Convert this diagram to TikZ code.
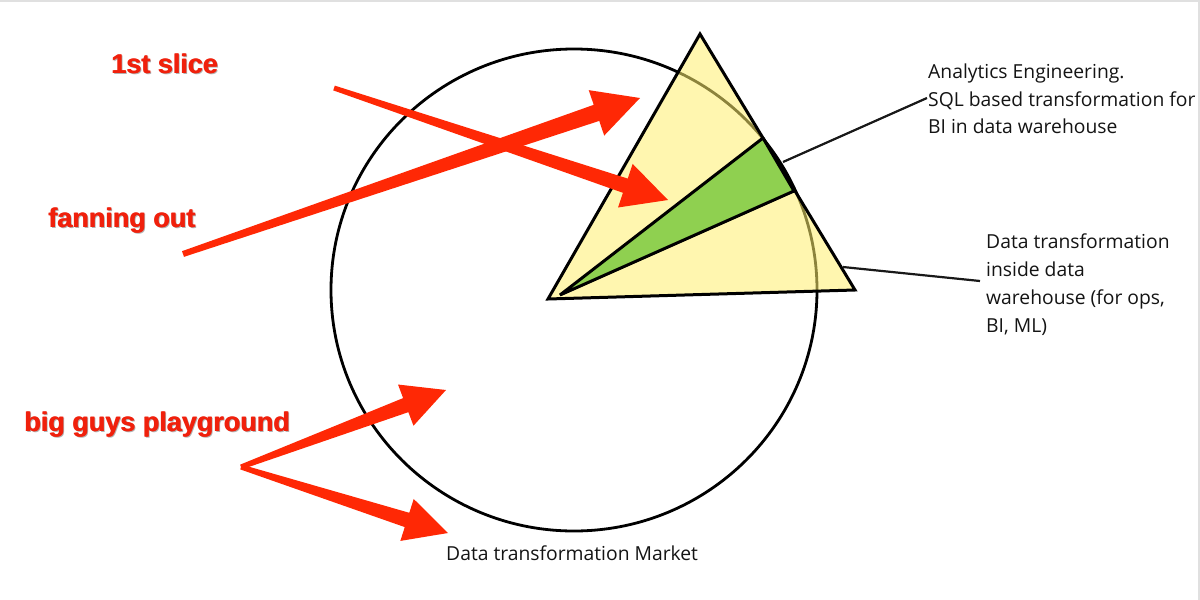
\documentclass[tikz,border=0pt]{standalone}
\usepackage{fontspec}
\setmainfont{Open Sans}
\newfontfamily\lsans{Liberation Sans}
\usetikzlibrary{calc,shapes.geometric}
\definecolor{arrowred}{RGB}{255,40,5}
\definecolor{textred}{RGB}{240,32,12}
\definecolor{triyellow}{RGB}{255,240,110}
\definecolor{slicegreen}{RGB}{143,208,80}
\tikzset{
  outline/.style={draw=black,line width=3pt,line join=miter},
  leader/.style={draw=black!90,line width=2.2pt},
  redarrow/.style={fill=arrowred,line join=round},
  blacktext/.style={inner sep=0pt,anchor=base west,font=\fontsize{19.3}{22}\selectfont,text=black!92},
  redlabel/.style={inner sep=0pt,anchor=base west,font=\lsans\bfseries\fontsize{27}{30}\selectfont,text=textred},
  redshadow/.style={inner sep=0pt,anchor=base west,font=\lsans\bfseries\fontsize{27}{30}\selectfont,text=black!30}
}
\newcommand{\karrow}[6]{%
  \path ($(#2)!#5!(#1)$) coordinate (kb);
  \fill[redarrow] ($(#1)!#3!90:(#2)$) -- ($(kb)!#4!-90:(#1)$) -- ($(kb)!#6!-90:(#1)$)
    -- (#2) -- ($(kb)!#6!90:(#1)$) -- ($(kb)!#4!90:(#1)$) -- ($(#1)!#3!-90:(#2)$) -- cycle;
}
\newcommand{\redtext}[4]{% name, x, y, text
  \node[redshadow] at (#2+1.4,#3+1.6) {#4};
  \node[redlabel] at (#2+0.6,#3) {#4};
  \node[redlabel] (#1) at (#2,#3) {#4};
}
\begin{document}
\begin{tikzpicture}[x=1pt,y=-1pt]
\useasboundingbox (0,0) rectangle (1200,600);
\fill[white] (0,0) rectangle (1200,600);
\draw[black!12,line width=1.5pt] (0,0.8) -- (1199.2,0.8) -- (1199.2,600);

% market circle
\node[draw=black,line width=2.8pt,ellipse,minimum width=486pt,minimum height=482pt,inner sep=0pt] (market) at (574,290) {};

% triangle
\coordinate (A) at (548,299);
\coordinate (P) at (700,34);
\coordinate (R) at (855,290);
\fill[triyellow,fill opacity=0.55] (A) -- (P) -- (R) -- cycle;
\draw[outline] (A) -- (P) -- (R) -- cycle;

% green slice
\coordinate (G0) at (560,295);
\coordinate (G1) at (763,138);
\coordinate (G2) at (794,191);
\filldraw[fill=slicegreen,outline,line join=bevel] (G0) -- (G1) -- (G2) -- cycle;

% arrows
\coordinate (s1) at (334,88);   \coordinate (t1) at (668,200);
\coordinate (s2) at (183,254);  \coordinate (t2) at (640,98);
\coordinate (s3) at (241,467);  \coordinate (t3) at (446,390);
\coordinate (t4) at (448,533);
\karrow{s1}{t1}{2.5pt}{7.5pt}{45pt}{23pt}
\karrow{s2}{t2}{3pt}{8.5pt}{46pt}{24pt}
\karrow{s3}{t3}{2.5pt}{7.5pt}{43pt}{22pt}
\karrow{s3}{t4}{2.5pt}{7.5pt}{43pt}{22pt}

% leaders
\coordinate (l1a) at (783,162); \coordinate (l1b) at (927,98);
\coordinate (l2a) at (843,267); \coordinate (l2b) at (980,281);
\draw[leader] (l1a) -- (l1b);
\draw[leader] (l2a) -- (l2b);

% black texts
\node[blacktext] (ae1) at (928,78) {Analytics Engineering.};
\node[blacktext] (ae2) at (928,106) {SQL based transformation for};
\node[blacktext] (ae3) at (928,133) {BI in data warehouse};
\node[blacktext] (dt1) at (986,248) {Data transformation};
\node[blacktext] (dt2) at (986,276) {inside data};
\node[blacktext] (dt3) at (986,304) {warehouse (for ops,};
\node[blacktext] (dt4) at (986,332) {BI, ML)};
\node[blacktext] (mk) at (446,560) {Data transformation Market};

% red labels with shadow
\redtext{l1}{111}{73}{1st slice}
\redtext{l2}{48}{227}{fanning out}
\redtext{l3}{24}{431}{big guys playground}
\end{tikzpicture}
\end{document}
